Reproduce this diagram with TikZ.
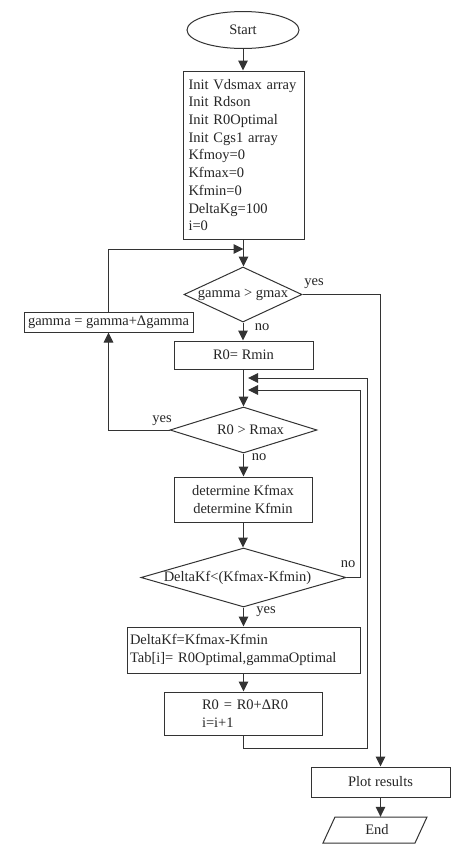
\documentclass[tikz,border=0pt]{standalone}
\usepackage{fontspec}
\setmainfont{Liberation Serif}
\usetikzlibrary{arrows.meta,shapes.geometric}
\begin{document}
\begin{tikzpicture}[x=1pt,y=-1pt,
  every node/.style={font=\fontsize{14.5}{17.7}\selectfont, text=black!85},
  box/.style={draw=black!80, line width=1pt, rectangle, inner sep=0pt},
  dia/.style={draw=black!80, line width=1pt, diamond, inner sep=0pt},
  lbl/.style={inner sep=0pt},
  arr/.style={draw=black!80, line width=1pt, -{Triangle[length=10pt,width=9.5pt]}},
  ln/.style={draw=black!80, line width=1pt}]
\useasboundingbox[fill=white] (0,0) rectangle (474,860);

\node[draw=black!80, line width=1pt, ellipse, minimum width=112pt, minimum height=37pt, inner sep=0pt] (start) at (243,30) {Start};
\node[box, minimum height=168pt, text width=110pt, inner xsep=5.5pt, align=left] (init) at (243.5,155)
 {Init Vdsmax array\\Init Rdson\\Init R0Optimal\\Init Cgs1 array\\Kfmoy=0\\Kfmax=0\\Kfmin=0\\DeltaKg=100\\i=0};
\node[dia, minimum width=118pt, minimum height=55pt] (d1) at (243,294.5) {\makebox[0pt]{gamma > gmax}};
\node[box, minimum width=139pt, minimum height=28pt] (rmin) at (243.5,355) {R0= Rmin};
\node[box, minimum width=169pt, minimum height=20pt] (gam) at (108.5,322) {\makebox[0pt]{gamma = gamma+Δgamma}};
\node[dia, minimum width=147pt, minimum height=46pt] (d2) at (243.5,430) {\makebox[0pt]{\hspace*{14pt}R0 > Rmax}};
\node[box, minimum width=138pt, minimum height=45pt, align=center] (det) at (243,499.5) {determine Kfmax\\determine Kfmin};
\node[dia, minimum width=205pt, minimum height=59pt] (d3) at (243.5,577.5) {\makebox[0pt]{\hspace*{-12pt}DeltaKf<(Kfmax-Kfmin)}};
\node[box, minimum height=46pt, text width=227pt, inner xsep=3pt, align=left] (dk) at (243.5,650)
 {DeltaKf=Kfmax-Kfmin\\Tab[i]= R0Optimal,gammaOptimal};
\node[box, minimum height=43pt, text width=158pt, inner xsep=0pt, align=left] (r0) at (243,713.5)
 {\hspace*{38pt}R0 = R0+ΔR0\\\hspace*{38pt}i=i+1};
\node[box, minimum width=139pt, minimum height=30pt] (plot) at (380.5,782) {Plot results};
\node[lbl, minimum height=26pt, minimum width=60pt] (end) at (377,830) {End};
\draw[ln] (335,817) -- (427,817) -- (415,843) -- (323,843) -- cycle;

\coordinate (j1) at (243.5,249);
\coordinate (j2) at (248,378);
\coordinate (j3) at (248,390);

\draw[arr] (start.south) -- (start.south |- init.north);
\draw[arr] (init.south) -- (init.south |- d1.north);
\draw[arr] (gam.north) |- (j1);
\draw[arr] (d1.east) -| (plot.north);
\draw[arr] (d1.south) -- (d1.south |- rmin.north);
\draw[arr] (rmin.south) -- (rmin.south |- d2.north);
\draw[arr] (d2.west) -| (gam.south);
\draw[arr] (d2.south) -- (d2.south |- det.north);
\draw[arr] (det.south) -- (det.south |- d3.north);
\draw[arr] (d3.east) -- ++(13.5,0) |- (j3);
\draw[arr] (d3.south) -- (d3.south |- dk.north);
\draw[arr] (dk.south) -- (dk.south |- r0.north);
\draw[arr] (r0.south) -- ++(0,13) -| (367,378) -- (j2);
\draw[arr] (plot.south) -- (plot.south |- end.north);

\node[lbl] (y1) at (314,284) {yes};
\node[lbl] (n1) at (262,327) {no};
\node[lbl] (y2) at (162,421) {yes};
\node[lbl] (n2) at (259,457) {no};
\node[lbl] (n3) at (348,564) {no};
\node[lbl] (y3) at (266,612) {yes};
\end{tikzpicture}
\end{document}
